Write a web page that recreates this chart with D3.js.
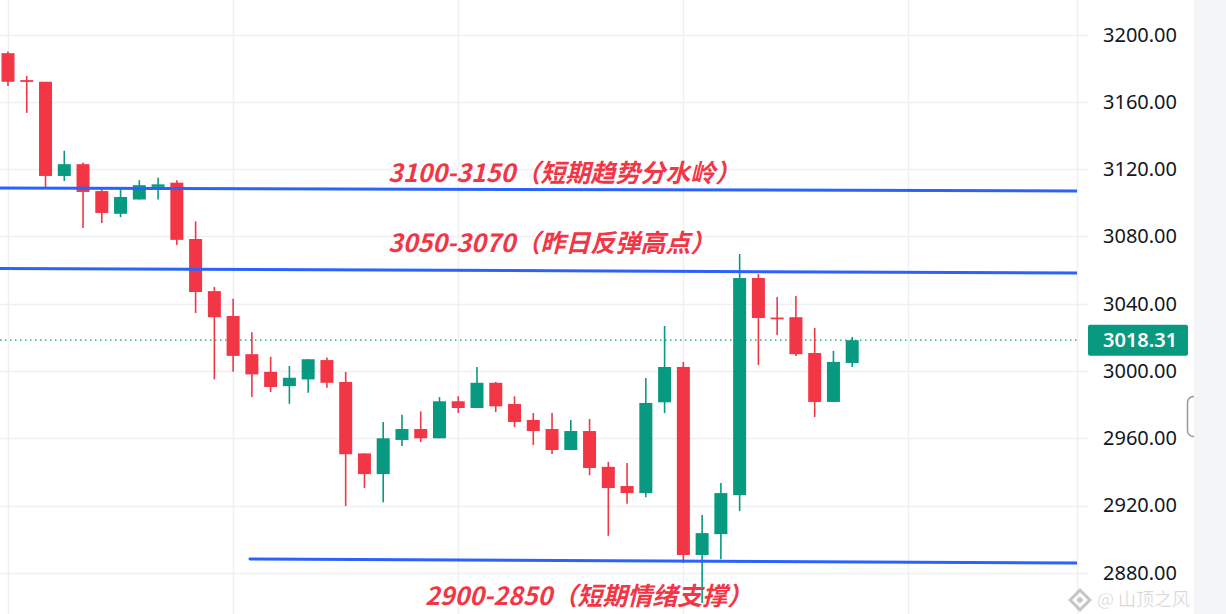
<!DOCTYPE html>
<html>
<head>
<meta charset="utf-8">
<script src="https://cdn.jsdelivr.net/npm/d3@7"></script>
<style>
  html, body { margin: 0; padding: 0; background: #fff; overflow: hidden; }
  svg { display: block; }
</style>
</head>
<body>
<svg id="chart" width="1226" height="614"></svg>
<script>
// OHLC, one entry per candle (left to right)
const opens = [3189, 3173, 3172, 3116, 3123, 3107, 3093.5, 3102, 3109.5, 3112,
  3078.5, 3047.5, 3032.7, 3010, 2999.5, 2991, 2995, 3006.5, 2993.5, 2951,
  2938.7, 2959, 2965.5, 2960, 2982, 2978, 2993, 2980.4, 2970.9, 2965.5,
  2953, 2964.3, 2943, 2931.6, 2927.4, 2981.4, 3002.4, 2890.6, 2903, 2926.2,
  3055.3, 3031.8, 3032, 3010.7, 2981.6, 3004.8];
const highs = [3190, 3175.5, 3172, 3131, 3124, 3109.5, 3108, 3113.5, 3115, 3113.5,
  3089, 3050, 3043, 3023, 3008.5, 3003, 3007, 3008, 2999.5, 2951,
  2969.7, 2974, 2976, 2984.5, 2985, 3002.4, 2993.5, 2985, 2975, 2975,
  2970.9, 2971.5, 2946, 2945.3, 2995.8, 3026.8, 3005.4, 2914.4, 2933.4, 3069.6,
  3057.7, 3044, 3044.6, 3025.6, 3012, 3020.2];
const lows = [3169.5, 3153.5, 3109.5, 3113, 3085, 3088, 3091.5, 3102, 3102, 3075,
  3034.5, 2995, 2999.5, 2984.5, 2987.5, 2980.5, 2987, 2990, 2919.7, 2930.4,
  2922, 2955.4, 2957.8, 2960, 2975, 2978, 2975.6, 2966.7, 2956, 2950.6,
  2953, 2938, 2902, 2921, 2925, 2975, 2885.8, 2862, 2888, 2916.7,
  3003.6, 3021.4, 3009, 2972.6, 2981.6, 3002.4];
const closes = [3172, 3172, 3116, 3123, 3106.5, 3094, 3103.5, 3110.5, 3111, 3078,
  3047, 3032, 3009, 2998, 2990.5, 2996, 3007, 2993, 2950.5, 2938.7,
  2960, 2965.5, 2960, 2982, 2978, 2993, 2979, 2969.7, 2964.3, 2953,
  2964.3, 2942.3, 2930.4, 2927.4, 2981, 3002.4, 2890.6, 2903.6, 2927.4, 3055.3,
  3031.5, 3031.2, 3010, 2981.6, 3005.4, 3018.31];

const lastPrice = 3018.31;
const priceTicks = [2880, 2920, 2960, 3000, 3040, 3080, 3120, 3160, 3200];
const timeGrid = [0, 12, 24, 36, 48];

// drawn trend lines: [start index, start price, end index, end price]
const levelLines = [
  [-0.43, 3108.8, 57, 3107.1],
  [-0.43, 3061.0, 57, 3058.3],
  [12.9, 2888.2, 57, 2885.8]
];
const noteLabels = ["3100-3150（短期趋势分水岭）", "3050-3070（昨日反弹高点）", "2900-2850（短期情绪支撑）"];
const noteIndex = [20.26, 20.26, 22.23];
const notePrice = [3112.4, 3070.8, 2860.8];

const W = 1226, H = 614;
const plotRight = 1077;
const svg = d3.select("#chart");

const x = d3.scaleLinear().domain([0, 45]).range([8, 852.2]);
const y = d3.scaleLinear().domain([2880, 3200]).range([572.8, 34.7]);

const up = "#089981", down = "#f23645", grid = "#eff0f2";

svg.append("defs").append("clipPath").attr("id", "plot")
  .append("rect").attr("x", 0).attr("y", 0).attr("width", plotRight).attr("height", H);

// grid
svg.append("g").selectAll("line").data(priceTicks).enter().append("line")
    .attr("x1", 0).attr("x2", 1088)
    .attr("y1", d => Math.round(y(d)) + 0.5).attr("y2", d => Math.round(y(d)) + 0.5)
    .attr("stroke", grid).attr("stroke-width", 1.5);
svg.append("g").selectAll("line").data(timeGrid).enter().append("line")
    .attr("x1", d => Math.round(x(d)) + 0.5).attr("x2", d => Math.round(x(d)) + 0.5)
    .attr("y1", 0).attr("y2", H)
    .attr("stroke", grid).attr("stroke-width", 1.5);
svg.append("line")
    .attr("x1", plotRight + 0.5).attr("x2", plotRight + 0.5)
    .attr("y1", 0).attr("y2", H)
    .attr("stroke", grid).attr("stroke-width", 1.5);

const plot = svg.append("g").attr("clip-path", "url(#plot)");

// last price line
plot.append("line")
    .attr("x1", 0).attr("x2", plotRight)
    .attr("y1", y(lastPrice)).attr("y2", y(lastPrice))
    .attr("stroke", up).attr("stroke-width", 1.2)
    .attr("stroke-dasharray", "1.5,3.5");

// candles
const candles = opens.map((o, i) => ({ i: i, o: o, h: highs[i], l: lows[i], c: closes[i] }));
const bodyW = 13;
const cg = plot.append("g").selectAll("g").data(candles).enter().append("g");
cg.append("line")
    .attr("x1", d => x(d.i)).attr("x2", d => x(d.i))
    .attr("y1", d => y(d.h)).attr("y2", d => y(d.l))
    .attr("stroke", d => d.c >= d.o ? up : down)
    .attr("stroke-width", 1.6);
cg.append("rect")
    .attr("x", d => x(d.i) - bodyW / 2)
    .attr("width", bodyW)
    .attr("y", d => y(Math.max(d.o, d.c)))
    .attr("height", d => Math.max(1.8, Math.abs(y(d.o) - y(d.c))))
    .attr("fill", d => d.c >= d.o ? up : down);

// level lines
plot.append("g").selectAll("line").data(levelLines).enter().append("line")
    .attr("x1", d => x(d[0])).attr("y1", d => y(d[1]))
    .attr("x2", d => x(d[2])).attr("y2", d => y(d[3]))
    .attr("stroke", "#2962ff").attr("stroke-width", 3)
    .attr("stroke-linecap", "round");

// annotations
svg.append("g").selectAll("text").data(noteLabels).enter().append("text")
    .attr("x", (d, i) => x(noteIndex[i]))
    .attr("y", (d, i) => y(notePrice[i]))
    .attr("fill", "#f23645")
    .attr("font-family", "'Noto Sans CJK SC', 'Noto Sans', sans-serif")
    .attr("font-size", 25)
    .attr("font-weight", "bold")
    .attr("font-style", "italic")
    .text(d => d);

// price axis
const axis = svg.append("g")
    .attr("transform", `translate(${1088},0)`)
    .call(d3.axisRight(y).tickValues(priceTicks).tickSize(0).tickPadding(15).tickFormat(d3.format(".2f")));
axis.select(".domain").remove();
axis.selectAll("text")
    .attr("fill", "#131722")
    .attr("font-family", "'Noto Sans', sans-serif")
    .attr("font-size", 20);

// last price badge
svg.append("rect")
    .attr("x", 1088).attr("y", y(lastPrice) - 15.5)
    .attr("width", 100).attr("height", 31)
    .attr("rx", 2)
    .attr("fill", up);
svg.append("text")
    .attr("x", 1103).attr("y", y(lastPrice))
    .attr("dy", "0.36em")
    .attr("fill", "#fff")
    .attr("font-family", "'Noto Sans', sans-serif")
    .attr("font-size", 20)
    .attr("font-weight", 600)
    .text(d3.format(".2f")(lastPrice));

// collapse handle + side strip
svg.append("rect")
    .attr("x", 1187.5).attr("y", 396.5).attr("width", 18).attr("height", 40)
    .attr("rx", 6).attr("fill", "#fff").attr("stroke", "#9598a1").attr("stroke-width", 1.5);
svg.append("rect")
    .attr("x", 1194).attr("y", 0).attr("width", W - 1194).attr("height", H)
    .attr("fill", "#f4f5f7");

// watermark
const wm = svg.append("g").attr("opacity", 0.55);
const logo = wm.append("g").attr("transform", "translate(1080,600) rotate(45)");
logo.append("rect").attr("x", -7).attr("y", -7).attr("width", 14).attr("height", 14)
    .attr("fill", "none").attr("stroke", "#999").attr("stroke-width", 3);
logo.append("rect").attr("x", -2.5).attr("y", -2.5).attr("width", 5).attr("height", 5)
    .attr("fill", "#999");
wm.append("text")
    .attr("x", 1097).attr("y", 606)
    .attr("fill", "#9a9a9a")
    .attr("stroke", "#fff").attr("stroke-width", 0.5)
    .attr("font-family", "'Noto Sans CJK SC', sans-serif")
    .attr("font-size", 18)
    .text("@ 山顶之风");
</script>
</body>
</html>
